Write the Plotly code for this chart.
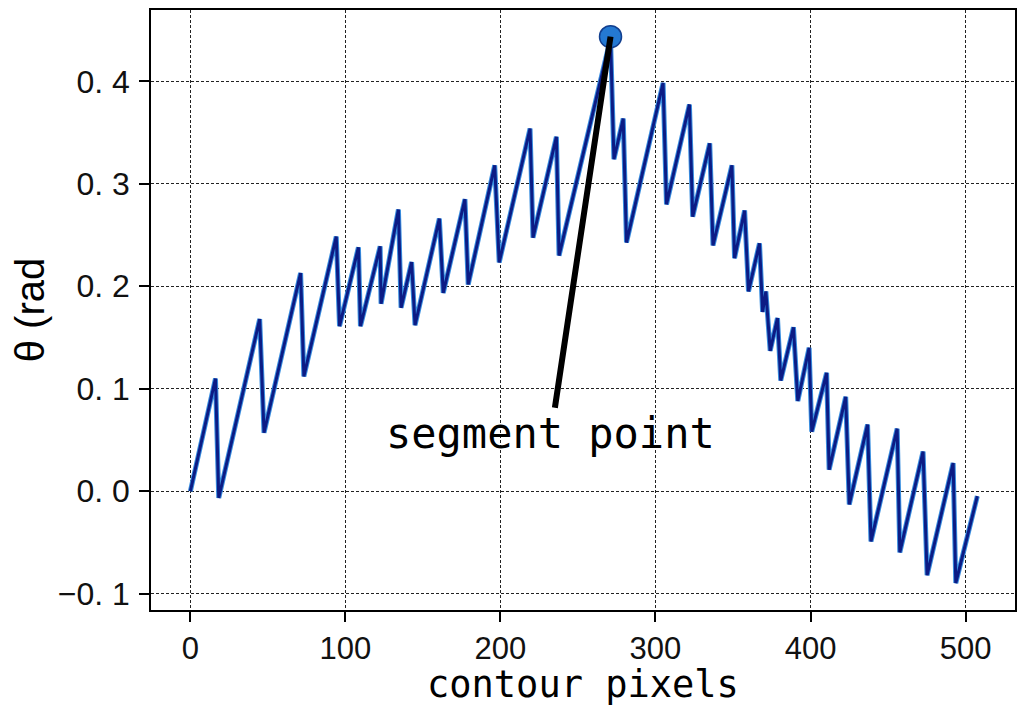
import plotly.graph_objects as go

# vertices of the angle curve
pixels = [0, 16.2, 18.3, 44.7, 47.5, 71.1, 73.2, 94.1, 96.2, 108.4, 109.7,
          122.4, 123.0, 134.2, 135.9, 142.7, 144.9, 160.6, 163.1, 177.1, 179.2,
          196.3, 199.2, 219.1, 221.0, 236.1, 237.8, 271.0, 273.2, 279.2, 281.3,
          304.9, 307.1, 321.9, 324.0, 335.0, 337.1, 349.3, 351.0, 357.5, 360.0,
          367.1, 369.1, 371.2, 374.0, 378.7, 380.8, 389.0, 391.8, 399.1, 400.8,
          410.4, 412.0, 422.7, 425.0, 436.8, 439.0, 455.9, 457.6, 472.6, 475.2,
          492.0, 493.7, 507.6]
theta = [0.0, 0.110, -0.0065, 0.168, 0.057, 0.213, 0.112, 0.2485, 0.161, 0.238, 0.161,
         0.239, 0.183, 0.275, 0.179, 0.2236, 0.162, 0.266, 0.1936, 0.285, 0.2017,
         0.318, 0.2233, 0.354, 0.2475, 0.346, 0.230, 0.442, 0.324, 0.3637, 0.2427,
         0.3985, 0.280, 0.3775, 0.268, 0.3395, 0.2398, 0.318, 0.2275, 0.274, 0.195,
         0.242, 0.175, 0.195, 0.137, 0.169, 0.108, 0.160, 0.088, 0.140, 0.058,
         0.1155, 0.021, 0.092, -0.0129, 0.065, -0.049, 0.061, -0.0597, 0.0387, -0.082,
         0.0274, -0.0897, -0.0048]

seg_x = [271.0]
seg_y = [0.4437]

x_ticks = [0, 100, 200, 300, 400, 500]
y_ticks = [-0.1, 0.0, 0.1, 0.2, 0.3, 0.4]
y_ticktext = ["\u22120. 1", "0. 0", "0. 1", "0. 2", "0. 3", "0. 4"]

fig = go.Figure()
# light blue halo under the dark line
fig.add_trace(go.Scatter(x=pixels, y=theta, mode="lines",
                         line=dict(color="#3a8fe0", width=5),
                         hoverinfo="skip", showlegend=False))
fig.add_trace(go.Scatter(x=pixels, y=theta, mode="lines",
                         line=dict(color="#0c1c85", width=3),
                         showlegend=False))
fig.add_trace(go.Scatter(x=seg_x, y=seg_y, mode="markers",
                         marker=dict(size=22, color="#2479d2",
                                     line=dict(color="#123f8f", width=1.5)),
                         showlegend=False))

fig.add_annotation(
    x=seg_x[0], y=seg_y[0], xref="x", yref="y",
    ax=232.6, ay=0.0561, axref="x", ayref="y",
    text="segment point", showarrow=True, arrowhead=0,
    arrowwidth=6, arrowcolor="black", standoff=0, startstandoff=0,
    font=dict(family="DejaVu Sans Mono", size=42, color="black"),
)

# x axis title placed by hand so it clears the tick labels
fig.add_annotation(
    x=0.5, y=-0.163, xref="paper", yref="paper",
    xanchor="center", yanchor="bottom", showarrow=False,
    text="contour pixels",
    font=dict(family="DejaVu Sans Mono", size=37, color="black"),
)

axis_common = dict(
    showgrid=True, gridcolor="#222222", gridwidth=1, griddash="3px,2px",
    showline=True, linecolor="black", linewidth=1.5, mirror=True,
    ticks="outside", ticklen=10, tickwidth=1.5, tickcolor="black",
    zeroline=False,
)

fig.update_xaxes(
    range=[-25.4, 531.9], tickvals=x_ticks,
    tickfont=dict(family="Liberation Sans Narrow, Liberation Sans", size=31, color="#111"),
    **axis_common,
)
fig.update_yaxes(
    range=[-0.116, 0.4697], tickvals=y_ticks, ticktext=y_ticktext,
    tickfont=dict(family="Liberation Sans", size=32, color="#111"),
    ticklabelstandoff=3,
    title=dict(text="\u03b8 (rad", standoff=12,
               font=dict(family="Liberation Sans", size=40, color="black")),
    **axis_common,
)

# the page adds an 8px body margin, so the figure is 16px smaller than the window
fig.update_layout(
    width=1009, height=702,
    margin=dict(l=143, r=0, t=0, b=100),
    plot_bgcolor="white", paper_bgcolor="white",
)

fig.write_html("out.html")
